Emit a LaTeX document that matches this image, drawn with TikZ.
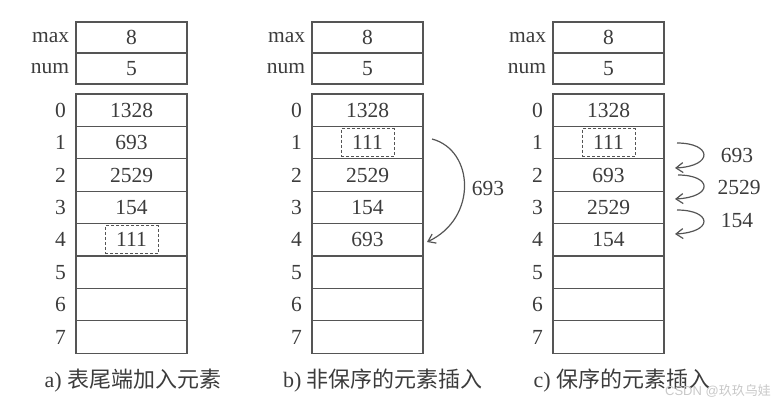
\documentclass[tikz,border=0pt]{standalone}
\usepackage{fontspec}
\setmainfont{Liberation Serif}
\newfontfamily\cjk{Noto Sans CJK SC}
\newfontfamily\wmfont{Liberation Sans}
\usetikzlibrary{arrows.meta}
\definecolor{ink}{HTML}{3C3C3C}
\definecolor{linec}{HTML}{555555}
\definecolor{wm}{HTML}{C8C8C8}
\tikzset{
  cell/.style={draw=linec, line width=1.2pt, minimum width=111pt, minimum height=32.4pt, inner sep=0pt},
  hcell/.style={cell, minimum height=31pt},
  lbl/.style={font=\fontsize{21.5}{21.5}\selectfont, text=ink, inner sep=0pt},
  dbox/.style={lbl, draw=linec, dash pattern=on 3pt off 2pt, line width=1pt, minimum width=53pt, minimum height=28pt},
  arr/.style={draw=linec, line width=1.2pt, -{Straight Barb[length=7pt,width=10pt]}},
  captext/.style={font=\fontsize{22}{22}\selectfont, text=ink, inner sep=0pt},
}
\begin{document}
\begin{tikzpicture}[x=1pt,y=-1pt]
\useasboundingbox (0,0) rectangle (777,405);
\foreach \p/\x in {a/131.5, b/367.5, c/608.5} {
  \node[hcell] (\p max) at (\x,37.5) {};
  \node[hcell] (\p num) at (\x,68.5) {};
  \node[lbl] (\p vmax) at (\p max) {8};
  \node[lbl] (\p vnum) at (\p num) {5};
  \node[lbl, anchor=east] (\p lmax) at ([xshift=-6pt]\p max.west) {max};
  \node[lbl, anchor=east] (\p lnum) at ([xshift=-6pt]\p num.west) {num};
  \foreach \i in {0,...,7} {
    \node[cell] (\p\i) at (\x,110.2+32.4*\i) {};
    \node[lbl] (\p l\i) at ([xshift=-15pt]\p\i.west) {\i};
  }
}
\foreach \p/\i/\v in {a/0/1328, a/1/693, a/2/2529, a/3/154,
                      b/0/1328, b/2/2529, b/3/154, b/4/693,
                      c/0/1328, c/2/693, c/3/2529, c/4/154} {
  \node[lbl] (v\p\i) at (\p\i) {\v};
}
\node[dbox] (da) at (a4) {111};
\node[dbox] (db) at (b1) {111};
\node[dbox] (dc) at (c1) {111};

% panel b arrow
\coordinate (bs) at (432,139);
\coordinate (be) at (427,242);
\draw[arr] (bs) .. controls (474,150) and (478,218) .. (be);
\node[lbl] (bl) at (488,188) {693};

% panel c arrows
\coordinate (cs1) at (677,143);
\coordinate (ce1) at (675,168);
\coordinate (cs2) at (678,175);
\coordinate (ce2) at (675,199);
\coordinate (cs3) at (677,210);
\coordinate (ce3) at (675,234);
\draw[arr] (cs1) .. controls (712,143) and (714,166) .. (ce1);
\draw[arr] (cs2) .. controls (712,175) and (714,197) .. (ce2);
\draw[arr] (cs3) .. controls (712,210) and (714,232) .. (ce3);
\node[lbl] (cl1) at (737,155) {693};
\node[lbl] (cl2) at (739,187) {2529};
\node[lbl] (cl3) at (737,221) {154};

% captions
\node[captext] (capa) at (133,381) {a) {\cjk 表尾端加入元素}};
\node[captext] (capb) at (383,381) {b) {\cjk 非保序的元素插入}};
\node[captext] (capc) at (622,381) {c) {\cjk 保序的元素插入}};
\node[anchor=east, inner sep=0pt, text=wm, font=\wmfont\fontsize{13}{13}\selectfont] (wmk) at (771,391) {CSDN @{\cjk 玖玖乌娃}};
\end{tikzpicture}
\end{document}
